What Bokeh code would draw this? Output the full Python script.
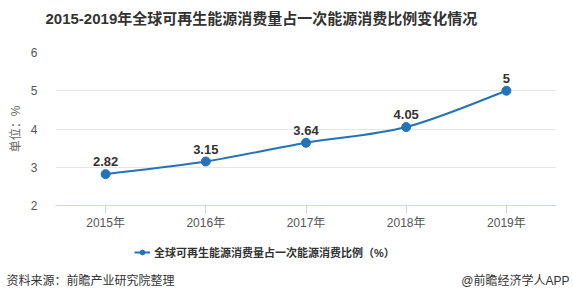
from bokeh.plotting import figure
from bokeh.layouts import column
from bokeh.models import (ColumnDataSource, FixedTicker, Label, Range1d, Legend, LegendItem, LabelSet)
from bokeh.core.properties import value
from bokeh.embed import file_html
from bokeh.resources import INLINE

years = ["2015年", "2016年", "2017年", "2018年", "2019年"]
values = [2.82, 3.15, 3.64, 4.05, 5.0]
value_labels = ["2.82", "3.15", "3.64", "4.05", "5"]
y_ticks = [2, 3, 4, 5, 6]
title_text = "2015-2019年全球可再生能源消费量占一次能源消费比例变化情况"
series_name = "全球可再生能源消费量占一次能源消费比例（%）"
y_label = "单位：%"
source_text = "资料来源：前瞻产业研究院整理"
brand_text = "@前瞻经济学人APP"

FONT = "Liberation Sans, Noto Sans CJK SC"
BLUE = "#2473b9"

W = 573
HT, HA, HB = 40, 200, 64
FL, FR = 55, 556          # frame left / right pixel
FT, FB = 12, 165          # frame top / bottom inside the chart strip


def strip(height):
    s = figure(width=W, height=height, output_backend="svg", toolbar_location=None,
               x_axis_type=None, y_axis_type=None,
               x_range=Range1d(0, 1), y_range=Range1d(0, 1),
               min_border_left=0, min_border_right=0, min_border_top=0, min_border_bottom=0)
    s.frame_align = False
    s.grid.visible = False
    s.outline_line_color = None
    return s


# top strip: title
t = strip(HT)
t.add_layout(Label(x=45, y=HT - 26, x_units="screen", y_units="screen", text=title_text,
                   text_font=FONT, text_font_size="15px", text_font_style="bold", text_color="#333333"))

# chart
p = figure(width=W, height=HA, output_backend="svg", toolbar_location=None,
           x_range=Range1d(-0.5, 4.5), y_range=Range1d(2, 6),
           min_border_left=FL, min_border_right=W - FR, min_border_top=FT, min_border_bottom=HA - FB)
p.frame_align = False
p.outline_line_color = None
p.background_fill_color = "white"

xs = list(range(len(years)))

# smooth curve segments (Catmull-Rom -> cubic Bezier)
x0, y0, x1, y1, cx0, cy0, cx1, cy1 = [], [], [], [], [], [], [], []
n = len(xs)
for i in range(n - 1):
    pm = (xs[max(i - 1, 0)], values[max(i - 1, 0)])
    pa = (xs[i], values[i])
    pb = (xs[i + 1], values[i + 1])
    pn = (xs[min(i + 2, n - 1)], values[min(i + 2, n - 1)])
    x0.append(pa[0]); y0.append(pa[1]); x1.append(pb[0]); y1.append(pb[1])
    cx0.append(pa[0] + (pb[0] - pm[0]) / 6); cy0.append(pa[1] + (pb[1] - pm[1]) / 6)
    cx1.append(pb[0] - (pn[0] - pa[0]) / 6); cy1.append(pb[1] - (pn[1] - pa[1]) / 6)
bsrc = ColumnDataSource(dict(x0=x0, y0=y0, x1=x1, y1=y1, cx0=cx0, cy0=cy0, cx1=cx1, cy1=cy1))
p.bezier("x0", "y0", "x1", "y1", "cx0", "cy0", "cx1", "cy1", source=bsrc, line_color=BLUE, line_width=2)

src = ColumnDataSource(dict(x=xs, y=values, lab=value_labels))
p.scatter("x", "y", source=src, size=9, fill_color=BLUE, line_color=BLUE)

labels = LabelSet(x="x", y="y", text="lab", source=src, y_offset=8, text_align="center",
                  text_baseline="bottom", text_font=value(FONT), text_font_size="13px",
                  text_font_style="bold", text_color="#333333")
p.add_layout(labels)

p.xaxis.ticker = FixedTicker(ticks=xs)
p.xaxis.major_label_overrides = {i: y for i, y in enumerate(years)}
p.xaxis.major_label_text_font = FONT
p.xaxis.major_label_text_font_size = "12px"
p.xaxis.major_label_text_color = "#555555"
p.xaxis.axis_line_color = "#ccd6eb"
p.xaxis.major_tick_line_color = "#ccd6eb"
p.xaxis.major_tick_in = 0
p.xaxis.major_tick_out = 8
p.xaxis.minor_tick_line_color = None
p.xaxis.major_label_standoff = 2

p.yaxis.ticker = FixedTicker(ticks=y_ticks)
p.yaxis.major_label_text_font = FONT
p.yaxis.major_label_text_font_size = "12px"
p.yaxis.major_label_text_color = "#555555"
p.yaxis.axis_line_color = None
p.yaxis.major_tick_line_color = None
p.yaxis.minor_tick_line_color = None
p.yaxis.axis_label = y_label
p.yaxis.axis_label_text_font = FONT
p.yaxis.axis_label_text_font_size = "12px"
p.yaxis.axis_label_text_font_style = "normal"
p.yaxis.axis_label_text_color = "#666666"
p.yaxis.major_label_standoff = 12

p.xgrid.grid_line_color = None
p.ygrid.grid_line_color = "#e6e6e6"

# bottom strip: legend and footer
q = strip(HB)
lr = q.line(x=[-5, -4], y=[-5, -5], line_color=BLUE, line_width=2)
sr = q.scatter(x=[-5], y=[-5], size=9, fill_color=BLUE, line_color=BLUE)
legend = Legend(items=[LegendItem(label=series_name, renderers=[lr, sr])],
                location=(134, 44), orientation="horizontal",
                label_text_font=FONT, label_text_font_size="11px", label_text_font_style="bold",
                label_text_color="#333333", border_line_color=None, background_fill_alpha=0,
                glyph_width=16, glyph_height=12, label_standoff=4, margin=0, padding=2,
                label_height=12)
q.add_layout(legend, "center")
q.add_layout(Label(x=6, y=HB - 47, x_units="screen", y_units="screen", text=source_text,
                   text_font=FONT, text_font_size="12px", text_color="#333333"))
q.add_layout(Label(x=569, y=HB - 47, x_units="screen", y_units="screen", text=brand_text,
                   text_align="right", text_font=FONT, text_font_size="12px", text_color="#333333"))

open("out.html", "w").write(file_html(column(t, p, q, spacing=0), INLINE))
